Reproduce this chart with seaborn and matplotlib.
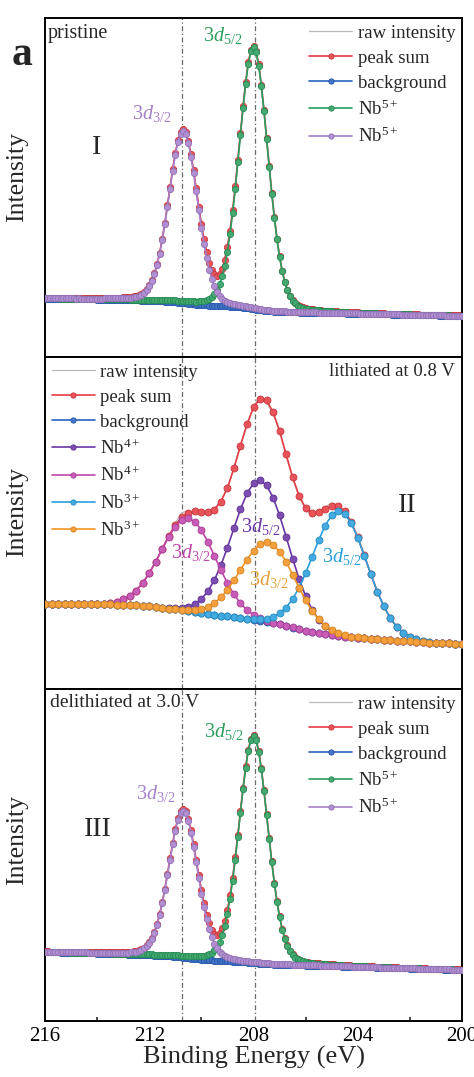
import numpy as np
import matplotlib
matplotlib.use("Agg")
import matplotlib.pyplot as plt
import seaborn as sns

# ---------------- data ----------------
# binding-energy sampling grids (instrument steps)
E_fine = np.round(np.linspace(216.0, 200.0, 161), 2)   # 0.1 eV step (panels I, III fits)
E_raw = np.round(np.linspace(216.0, 200.0, 81), 2)     # 0.2 eV step (panels I, III raw)
E_II = np.round(np.linspace(216.0, 200.0, 65), 2)      # 0.25 eV step (panel II)

x_major = [216, 212, 208, 204, 200]
x_minor = [214, 210, 206, 202]
ref_lines = [210.75, 207.95]

# ---- panel I (pristine) ----
bg_I = [58.5,58.5,58.4,58.4,58.3,58.3,58.2,58.2,58.1,58.1,
        58.0,58.0,57.9,57.9,57.8,57.8,57.7,57.7,57.6,57.6,
        57.5,57.5,57.4,57.4,57.3,57.3,57.2,57.2,57.1,57.1,
        57.0,
        56.9,56.9,56.8,56.7,56.7,56.6,56.5,56.5,56.4,56.3,
        56.2,56.0,55.9,55.7,55.6,55.4,55.3,55.1,55.0,54.8,
        54.5,54.2,53.9,53.6,53.3,53.0,52.7,52.4,52.1,51.8,
        51.7,51.6,51.4,51.3,51.2,51.1,51.0,50.8,50.7,50.6,
        50.4,50.3,50.1,50.0,49.8,
        49.4,49.0,48.7,48.3,47.9,47.5,47.1,46.8,46.4,46.0,
        45.8,45.6,45.4,45.2,45.0,
        44.9,44.9,44.8,44.8,44.7,44.7,44.6,44.5,44.5,44.4,
        44.4,44.3,44.3,44.2,44.1,44.1,44.0,44.0,43.9,43.9,
        43.8,43.7,43.7,43.6,43.6,43.5,43.4,43.4,43.3,43.3,
        43.2,43.2,43.1,43.0,43.0,42.9,42.9,42.8,42.8,42.7,
        42.7,42.6,42.5,42.5,42.4,42.4,42.3,42.3,42.2,42.1,
        42.1,42.0,42.0,41.9,41.9,41.8,41.7,41.7,41.6,41.6,
        41.5,41.5,41.4,41.3,41.3,41.2,41.2,41.1,41.1,41.0]
nb5_d52_I = [0.3,0.3,0.3,0.3,0.3,0.3,0.3,0.3,0.3,0.3,
             0.3,0.4,0.4,0.4,0.4,0.4,0.4,0.4,0.4,0.4,
             0.5,0.5,0.5,0.5,0.5,0.6,0.6,0.6,0.6,0.6,
             0.7,0.7,0.7,0.7,0.8,0.8,0.8,0.9,0.9,0.9,
             1.0,1.0,1.1,1.1,1.2,1.3,1.3,1.4,1.5,1.7,
             1.8,1.9,2.0,2.1,2.3,2.5,2.7,2.9,3.1,3.5,
             4.1,4.7,5.6,6.9,8.9,11.8,15.9,21.8,29.9,40.7,
             54.8,72.4,93.5,117.9,144.6,172.4,199.8,224.5,244.4,257.5,
             262.0,
             257.5,244.4,224.5,199.8,172.4,144.6,117.9,93.5,72.4,54.8,
             40.7,29.9,21.8,15.9,11.8,8.9,6.9,5.6,4.7,4.1,
             3.5,3.1,2.9,2.7,2.5,2.3,2.1,2.0,1.9,1.8,
             1.7,1.5,1.4,1.3,1.3,1.2,1.1,1.1,1.0,1.0,
             0.9,0.9,0.9,0.8,0.8,0.8,0.7,0.7,0.7,0.7,
             0.6,0.6,0.6,0.6,0.6,0.5,0.5,0.5,0.5,0.5,
             0.4,0.4,0.4,0.4,0.4,0.4,0.4,0.4,0.4,0.3,
             0.3,0.3,0.3,0.3,0.3,0.3,0.3,0.3,0.3,0.3]
nb5_d32_I = [0.3,0.4,0.4,0.4,
             0.4,0.4,0.5,0.5,0.5,0.5,0.6,0.6,0.6,0.7,
             0.7,0.7,0.8,0.8,0.8,0.9,1.0,1.0,1.1,1.2,
             1.25,1.3,1.4,1.5,1.6,1.7,1.9,2.1,2.4,2.7,
             3.1,3.7,4.6,5.8,7.7,10.4,14.3,19.6,26.7,36.0,
             47.6,61.4,77.4,94.9,113.2,131.2,147.4,160.5,169.0,
             172.0,
             169.0,160.5,147.4,131.2,113.2,94.9,77.4,61.4,47.6,
             36.0,26.7,19.6,14.3,10.4,7.7,5.8,4.6,3.7,3.1,
             2.7,2.4,2.1,1.9,1.7,1.6,1.5,1.4,1.3,1.25,
             1.2,1.1,1.0,1.0,0.9,0.9,0.8,0.8,0.7,0.7,
             0.7,0.6,0.6,0.6,0.5,0.5,0.5,0.5,0.4,0.4,
             0.4,0.4,0.4,0.4,0.4,0.4,0.4,0.4,0.4,0.4,
             0.3,0.3,0.3,0.3,0.3,0.3,0.3,0.3,0.3,0.3,0.3,0.3,0.3,0.3,0.3,
             0.2,0.2,0.2,0.2,0.2,0.2,0.2,0.2,0.2,0.2,0.2,
             0.2,0.2,0.2,0.2,0.2,0.2,0.2,0.2,0.2,0.2,0.2,
             0.2,0.2,0.2,0.2,0.2,0.2,0.2,0.2,0.2,0.2,0.2]
raw_I = [59.4,58.8,59.3,58.7,59.2,58.6,59.1,59.2,58.7,59.0,
         59.3,58.8,59.4,59.0,59.6,59.9,60.3,60.9,61.7,65.6,
         71.0,84.5,103.8,135.0,168.9,205.1,224.0,226.1,202.0,169.5,
         132.6,105.5,86.2,81.8,87.7,110.9,146.0,198.0,250.0,296.0,
         310.5,291.5,248.4,190.6,140.6,99.8,76.1,60.8,54.7,50.2,
         49.3,47.5,47.6,46.5,46.6,45.8,45.5,44.8,45.0,44.4,
         44.8,44.0,44.2,43.5,43.8,43.1,43.6,43.2,42.8,43.0,
         42.6,42.9,42.3,42.6,42.1,42.3,41.8,41.9,41.4,41.7,
         41.3]

# ---- panel II (lithiated at 0.8 V) ----
bg_II = [85.0,85.0,85.0,85.0,85.0,
         84.95,84.9,84.85,84.8,
         84.7,84.55,84.45,84.3,
         84.0,83.6,83.1,82.6,
         81.9,81.2,80.4,79.6,
         78.7,77.8,76.9,76.0,
         75.2,74.3,73.5,72.6,
         71.7,70.8,69.8,68.8,
         67.8,66.8,65.7,64.6,
         63.3,61.5,59.8,58.2,
         56.8,55.6,54.6,53.8,
         53.0,52.4,51.8,51.3,
         50.8,50.3,49.8,49.4,
         48.9,48.5,48.1,47.7,
         47.3,46.9,46.5,46.2,
         45.9,45.6,45.3,45.0]
nb4_d52_II = [0,0,0,0,0,0,0,0,0,0,0,0,0,0,0,0,0,
              0.1,0.2,0.5,1.1,2.3,4.4,8.1,13.9,22.6,34.7,50.3,68.9,89.2,109.0,125.7,137.0,
              141.0,
              137.0,125.7,109.0,89.2,68.9,50.3,34.7,22.6,13.9,8.1,4.4,2.3,1.1,0.5,0.2,0.1,
              0,0,0,0,0,0,0,0,0,0,0,0,0,0,0]
nb4_d32_II = [0,0,0,0,0,0,0.1,0.15,0.3,0.7,1.5,2.9,5.3,9.2,14.9,22.9,33.2,45.5,58.8,71.9,82.9,90.4,
              93.0,
              90.4,82.9,71.9,58.8,45.5,33.2,22.9,14.9,9.2,5.3,2.9,1.5,0.7,0.3,0.15,0.1,
              0,0,0,0,0,0,0,0,0,0,0,0,0,0,0,0,0,0,0,0,0,0,0,0,0,0]
nb3_d32_II = [0,0,0,0,0,0,0,0,0,0,0,0,0,0,0,0,0,0,
              0.0,0.1,0.3,0.5,1.1,2.2,4.1,7.1,11.7,18.1,26.6,36.9,48.3,59.7,69.6,76.8,
              79.9,78.5,72.9,63.9,52.9,41.4,30.5,21.3,14.0,8.7,5.1,2.8,1.5,0.7,0.3,0.2,
              0,0,0,0,0,0,0,0,0,0,0,0,0,0,0]
nb3_d52_II = [0,0,0,0,0,0,0,0,0,0,0,0,0,0,0,0,0,0,0,0,0,0,0,0,0,0,0,0,0,
              0.1,0.2,0.4,0.9,1.8,3.4,6.4,11.1,18.2,28.3,41.6,57.6,75.4,93.2,108.8,119.9,
              124.9,122.7,113.9,99.9,82.7,64.6,47.7,33.3,21.9,13.6,8.0,4.4,2.3,1.2,0.5,0.2,0.1,
              0,0,0]
raw_II = [85.3,84.8,85.2,84.9,85.1,84.7,85.2,84.9,85.4,85.2,
          86.3,87.0,89.9,92.8,98.9,105.5,116.4,127.0,141.0,153.5,
          166.0,176.5,178.0,176.0,175.0,175.5,180.5,188.5,200.0,221.5,
          244.5,263.5,283.0,292.5,286.5,275.5,259.0,233.5,
          211.0,192.0,179.0,174.0,176.0,182.0,186.0,184.0,177.0,165.0,152.0,
          132.5,116.0,96.5,83.5,70.0,62.5,55.5,52.5,49.2,48.4,46.8,
          46.6,45.8,45.8,45.1,45.2]

# ---- panel III (delithiated at 3.0 V) ----
bg_III = [69.0,68.9,68.8,68.8,68.7,68.6,68.5,68.5,68.4,68.3,68.2,
          68.2,68.1,68.0,67.9,67.9,67.8,67.7,67.6,67.6,67.5,
          67.4,67.3,67.2,67.2,67.1,67.0,66.9,66.9,66.8,66.7,
          66.6,66.5,66.4,66.3,66.3,66.2,66.1,66.0,65.9,65.8,
          65.7,65.5,65.4,65.2,65.1,64.9,64.8,64.6,64.5,64.3,
          64.0,63.7,63.4,63.1,62.8,62.5,62.2,61.9,61.6,61.3,
          61.1,61.0,60.8,60.7,60.5,60.4,60.2,60.1,59.9,59.8,
          59.6,59.5,59.3,59.2,59.0,
          58.8,58.6,58.3,58.1,57.9,57.7,57.5,57.2,57.0,56.8,
          56.7,56.6,56.5,56.4,56.3,
          56.2,56.1,56.1,56.0,55.9,55.8,55.8,55.7,55.6,55.5,
          55.5,55.4,55.3,55.2,55.2,55.1,55.0,54.9,54.9,54.8,
          54.7,54.6,54.6,54.5,54.4,54.3,54.3,54.2,54.1,54.0,
          54.0,53.9,53.8,53.7,53.6,53.6,53.5,53.4,53.3,53.3,
          53.2,53.1,53.0,53.0,52.9,52.8,52.7,52.7,52.6,52.5,
          52.4,52.4,52.3,52.2,52.1,52.1,52.0,51.9,51.8,51.8,
          51.7,51.6,51.5,51.5,51.4,51.3,51.2,51.2,51.1,51.0]
nb5_d52_III = [0.3,0.3,0.3,0.3,0.3,0.3,0.3,0.3,0.3,0.3,
               0.3,0.3,0.3,0.3,0.3,0.4,0.4,0.4,0.4,0.4,
               0.4,0.4,0.4,0.4,0.5,0.5,0.5,0.5,0.5,0.5,
               0.6,0.6,0.6,0.6,0.7,0.7,0.7,0.8,0.8,0.8,
               0.9,0.9,1.0,1.0,1.1,1.1,1.2,1.3,1.4,1.5,
               1.5,1.6,1.7,1.9,2.0,2.1,2.3,2.5,2.7,3.0,
               3.5,4.1,4.9,6.0,7.7,10.2,13.8,18.9,25.9,35.3,
               47.5,62.8,81.0,102.2,125.3,149.4,173.1,194.5,211.8,223.1,
               227.0,
               223.1,211.8,194.5,173.1,149.4,125.3,102.2,81.0,62.8,47.5,
               35.3,25.9,18.9,13.8,10.2,7.7,6.0,4.9,4.1,3.5,
               3.0,2.7,2.5,2.3,2.1,2.0,1.9,1.7,1.6,1.5,
               1.5,1.4,1.3,1.2,1.1,1.1,1.0,1.0,0.9,0.9,
               0.8,0.8,0.8,0.7,0.7,0.7,0.6,0.6,0.6,0.6,
               0.5,0.5,0.5,0.5,0.5,0.5,0.4,0.4,0.4,0.4,
               0.4,0.4,0.4,0.4,0.4,0.3,0.3,0.3,0.3,0.3,
               0.3,0.3,0.3,0.3,0.3,0.3,0.3,0.3,0.3,0.3]
nb5_d32_III = [0.3,0.35,0.35,0.35,
               0.4,0.4,0.45,0.45,0.5,0.5,0.55,0.55,0.6,0.6,
               0.7,0.7,0.75,0.8,0.8,0.85,0.9,0.9,0.95,1.0,
               1.05,1.1,1.2,1.3,1.4,1.5,1.6,1.8,2.0,2.3,
               2.6,3.2,3.9,5.0,6.6,8.9,12.2,16.8,22.9,30.8,
               40.6,52.5,66.2,81.1,96.7,112.1,126.0,137.2,144.5,
               147.0,
               144.5,137.2,126.0,112.1,96.7,81.1,66.2,52.5,40.6,
               30.8,22.9,16.8,12.2,8.9,6.6,5.0,3.9,3.2,2.6,
               2.3,2.0,1.8,1.6,1.5,1.4,1.3,1.2,1.1,1.05,
               1.0,0.95,0.9,0.9,0.85,0.8,0.8,0.75,0.7,0.7,
               0.6,0.6,0.55,0.55,0.5,0.5,0.45,0.45,0.4,0.4,
               0.35,0.35,0.35,0.35,0.35,0.35,0.35,0.35,0.35,0.35,
               0.3,0.3,0.3,0.3,0.3,0.3,0.3,0.3,0.3,0.3,0.3,0.3,0.3,0.3,0.3,
               0.2,0.2,0.2,0.2,0.2,0.2,0.2,0.2,0.2,0.2,0.2,
               0.2,0.2,0.2,0.2,0.2,0.2,0.2,0.2,0.2,0.2,0.2,
               0.2,0.2,0.2,0.2,0.2,0.2,0.2,0.2,0.2,0.2,0.2]
raw_III = [69.9,69.1,69.7,69.0,69.5,68.8,69.3,68.7,69.2,68.6,
           69.1,68.4,69.0,68.5,69.1,68.7,69.4,69.3,71.1,73.0,
           79.5,88.8,107.5,131.6,163.5,191.0,210.8,208.9,191.5,160.6,
           131.8,105.9,91.7,85.6,93.0,110.5,143.8,185.8,234.2,270.8,
           286.8,269.6,231.8,182.2,139.0,103.9,83.3,69.8,64.6,60.6,
           59.9,58.1,58.2,57.0,57.3,56.3,56.6,55.7,55.9,55.2,
           55.5,54.7,55.0,54.3,54.5,53.8,54.1,53.5,53.7,53.0,
           53.4,52.8,53.1,52.3,52.7,52.1,52.4,51.8,52.0,51.5,
           51.7]

# ---------------- style ----------------
sns.set_theme(style="white")
plt.rcParams['font.family'] = ['Liberation Serif', 'DejaVu Serif']
plt.rcParams['mathtext.fontset'] = 'custom'
plt.rcParams['mathtext.rm'] = 'Liberation Serif'
plt.rcParams['mathtext.it'] = 'Liberation Serif:italic'
plt.rcParams['mathtext.bf'] = 'Liberation Serif:bold'

C_RAW = '#b8b8b8'
C_SUM = '#e63c44'
C_BG = '#2a62c0'
C_GREEN = '#2a9e5e'
C_LAV = '#a680cc'
C_DPUR = '#6a36a6'
C_MAG = '#c046ac'
C_CYAN = '#2a9fdc'
C_ORNG = '#f29422'


def shade(c, f):
    rgb = np.array(matplotlib.colors.to_rgb(c))
    if f >= 0:
        return tuple(rgb + (1 - rgb) * f)
    return tuple(rgb * (1 + f))


def curve(ax, x, y, color, label, z, ms=4.5, marker=True, lw=1.2):
    kw = dict(color=color, linewidth=lw, zorder=z, label=label,
              legend=False, sort=False, estimator=None)
    if marker:
        kw.update(marker='o', markersize=ms, markerfacecolor=shade(color, 0.12),
                  markeredgecolor=shade(color, -0.12), markeredgewidth=0.6)
    sns.lineplot(x=np.asarray(x), y=np.asarray(y), ax=ax, **kw)
    return ax.get_lines()[-1]


fig = plt.figure(figsize=(4.74, 10.77), dpi=100)
L, W = 45 / 474, 417 / 474
ax1 = fig.add_axes([L, 1 - 357 / 1077, W, 339 / 1077])
ax2 = fig.add_axes([L, 1 - 689 / 1077, W, 332 / 1077])
ax3 = fig.add_axes([L, 1 - 1021 / 1077, W, 332 / 1077])
ylims = [339, 332, 332]
ycent = [0.53, 0.534, 0.545]

for ax, h, yc in zip([ax1, ax2, ax3], ylims, ycent):
    ax.set_xlim(216, 200)
    ax.set_ylim(0, h)
    ax.set_yticks([])
    for s in ax.spines.values():
        s.set_color('black')
        s.set_linewidth(1.4)
    for xv in ref_lines:
        ax.axvline(xv, color='#6a6a6a', linewidth=0.9, linestyle=(0, (4, 2, 1, 2)), zorder=1)
    ax.set_ylabel('Intensity', fontsize=18.5)
    ax.yaxis.set_label_coords(-0.04, yc)

for ax in (ax1, ax2):
    ax.set_xticks([])
    ax.tick_params(axis='x', which='both', bottom=False, labelbottom=False)

ax3.set_xticks(x_major)
ax3.set_xticks(x_minor, minor=True)
ax3.set_xticklabels([str(v) for v in x_major])
ax3.tick_params(axis='x', which='major', direction='in', length=5, width=1.3,
                pad=4, labelsize=15, colors='black')
ax3.tick_params(axis='x', which='minor', direction='in', length=3, width=1.2, bottom=True)
ax3.set_xlabel('Binding Energy (eV)', fontsize=19, labelpad=0)

leg_kw = dict(fontsize=13.5, frameon=False, handlelength=2.3, handletextpad=0.3,
              labelspacing=0.42, borderaxespad=0.2, borderpad=0.15, numpoints=1)


def legend(ax, handles, loc):
    lg = ax.legend(handles=handles, labels=[x.get_label() for x in handles], loc=loc, **leg_kw)
    for ln in lg.get_lines():
        ln.set_markersize(3.8)
    return lg


# ---- panel I ----
bg = np.array(bg_I)
h = []
h.append(curve(ax1, E_raw, raw_I, C_RAW, 'raw intensity', 2, marker=False, lw=0.9))
h.append(curve(ax1, E_fine, bg + np.array(nb5_d52_I) + np.array(nb5_d32_I), C_SUM, 'peak sum', 3))
h.append(curve(ax1, E_fine, bg, C_BG, 'background', 4))
h.append(curve(ax1, E_fine, bg + np.array(nb5_d52_I), C_GREEN, 'Nb$^{5+}$', 5))
h.append(curve(ax1, E_fine, bg + np.array(nb5_d32_I), C_LAV, 'Nb$^{5+}$', 6))
legend(ax1, h, 'upper right')
ax1.text(0.007, 0.955, 'pristine', transform=ax1.transAxes, fontsize=14.5, ha='left', va='center')
ax1.text(214.04, 209, 'I', fontsize=20, ha='center', va='center')
ax1.text(209.2, 321, r'$3d_{5/2}$', color=C_GREEN, fontsize=14.5, ha='center', va='center')
ax1.text(211.89, 243, r'$3d_{3/2}$', color=C_LAV, fontsize=14.5, ha='center', va='center')

# ---- panel II ----
bg = np.array(bg_II)
comps = [np.array(nb4_d52_II), np.array(nb4_d32_II), np.array(nb3_d52_II), np.array(nb3_d32_II)]
h = []
h.append(curve(ax2, E_II, raw_II, C_RAW, 'raw intensity', 2, marker=False, lw=0.9))
h.append(curve(ax2, E_II, bg + sum(comps), C_SUM, 'peak sum', 3, ms=5.0))
h.append(curve(ax2, E_II, bg, C_BG, 'background', 4, ms=5.0))
h.append(curve(ax2, E_II, bg + comps[0], C_DPUR, 'Nb$^{4+}$', 5, ms=5.0))
h.append(curve(ax2, E_II, bg + comps[1], C_MAG, 'Nb$^{4+}$', 6, ms=5.0))
h.append(curve(ax2, E_II, bg + comps[2], C_CYAN, 'Nb$^{3+}$', 7, ms=5.0))
h.append(curve(ax2, E_II, bg + comps[3], C_ORNG, 'Nb$^{3+}$', 8, ms=5.0))
legend(ax2, h, 'upper left')
ax2.text(0.983, 0.956, 'lithiated at 0.8 V', transform=ax2.transAxes, fontsize=13.5, ha='right', va='center')
ax2.text(202.11, 183, 'II', fontsize=20, ha='center', va='center')
ax2.text(210.4, 136, r'$3d_{3/2}$', color=C_MAG, fontsize=14.5, ha='center', va='center', zorder=10)
ax2.text(207.74, 162, r'$3d_{5/2}$', color=C_DPUR, fontsize=14.5, ha='center', va='center', zorder=10)
ax2.text(207.4, 109, r'$3d_{3/2}$', color='#e8a03a', fontsize=14.5, ha='center', va='center', zorder=10)
ax2.text(204.63, 132, r'$3d_{5/2}$', color=C_CYAN, fontsize=14.5, ha='center', va='center', zorder=10)

# ---- panel III ----
bg = np.array(bg_III)
h = []
h.append(curve(ax3, E_raw, raw_III, C_RAW, 'raw intensity', 2, marker=False, lw=0.9))
h.append(curve(ax3, E_fine, bg + np.array(nb5_d52_III) + np.array(nb5_d32_III), C_SUM, 'peak sum', 3))
h.append(curve(ax3, E_fine, bg, C_BG, 'background', 4))
h.append(curve(ax3, E_fine, bg + np.array(nb5_d52_III), C_GREEN, 'Nb$^{5+}$', 5))
h.append(curve(ax3, E_fine, bg + np.array(nb5_d32_III), C_LAV, 'Nb$^{5+}$', 6))
legend(ax3, h, 'upper right')
ax3.text(0.012, 0.959, 'delithiated at 3.0 V', transform=ax3.transAxes, fontsize=14, ha='left', va='center')
ax3.text(213.98, 191.5, 'III', fontsize=20, ha='center', va='center')
ax3.text(209.15, 289, r'$3d_{5/2}$', color=C_GREEN, fontsize=14.5, ha='center', va='center')
ax3.text(211.74, 227, r'$3d_{3/2}$', color=C_LAV, fontsize=14.5, ha='center', va='center')

fig.text(22 / 474, 1 - 55 / 1077, 'a', fontsize=30, fontweight='bold', ha='center', va='center')

fig.savefig('out.png', dpi=100, facecolor='white')
